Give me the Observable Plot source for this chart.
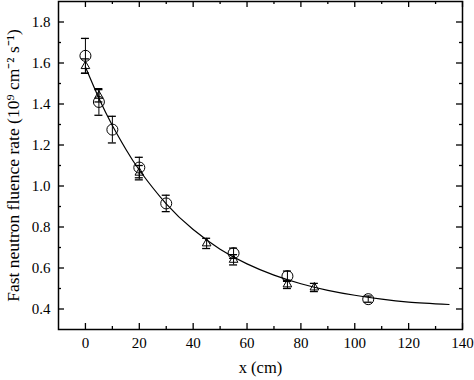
<!DOCTYPE html>
<html>
<head>
<meta charset="utf-8">
<script src="https://cdn.jsdelivr.net/npm/d3@7"></script>
<script src="https://cdn.jsdelivr.net/npm/@observablehq/plot@0.6"></script>
<style>
  body { margin: 0; background: #fff; }
</style>
</head>
<body>
<div id="chart"></div>
<script>
// Measured data: circles
const circX = [0, 5, 10, 20, 30, 55, 75, 105];
const circY = [1.635, 1.41, 1.275, 1.09, 0.915, 0.672, 0.56, 0.448];
const circErr = [0.085, 0.065, 0.065, 0.05, 0.04, 0.025, 0.025, 0.015];
// Measured data: triangles
const triX = [0, 5, 20, 45, 55, 75, 85];
const triY = [1.585, 1.44, 1.065, 0.72, 0.64, 0.52, 0.505];
const triErr = [0.035, 0.03, 0.035, 0.025, 0.025, 0.02, 0.02];
// Fitted curve
const fitX = [0, 5, 10, 15, 20, 30, 40, 50, 60, 70, 80, 90, 100, 110, 120, 135];
const fitY = [1.58, 1.428, 1.295, 1.179, 1.078, 0.913, 0.788, 0.692, 0.62, 0.565, 0.523, 0.491, 0.467, 0.448, 0.434, 0.422];
// Ticks
const xMajor = [0, 20, 40, 60, 80, 100, 120, 140];
const xMinor = [10, 30, 50, 70, 90, 110, 130];
const yMajor = [0.4, 0.6, 0.8, 1.0, 1.2, 1.4, 1.6, 1.8];
const yMinor = [0.5, 0.7, 0.9, 1.1, 1.3, 1.5, 1.7];

const circ = circX.map((x, i) => ({x, y: circY[i], lo: circY[i] - circErr[i], hi: circY[i] + circErr[i]}));
const tri = triX.map((x, i) => ({x, y: triY[i], lo: triY[i] - triErr[i], hi: triY[i] + triErr[i]}));
const fit = fitX.map((x, i) => ({x, y: fitY[i]}));

const W = 474, H = 380, mL = 58, mR = 12, mT = 1, mB = 51;
const pw = W - mL - mR, ph = H - mT - mB;
const sw = 1.3;

function errBars(data) {
  return [
    Plot.ruleX(data, {x: "x", y1: "lo", y2: "hi", stroke: "#000", strokeWidth: 1}),
    Plot.ruleY(data, {y: "lo", x1: "x", x2: "x", insetLeft: -4, insetRight: -4, stroke: "#000", strokeWidth: 1.3}),
    Plot.ruleY(data, {y: "hi", x1: "x", x2: "x", insetLeft: -4, insetRight: -4, stroke: "#000", strokeWidth: 1.3})
  ];
}

const chart = Plot.plot({
  width: W, height: H,
  marginLeft: mL, marginRight: mR, marginTop: mT, marginBottom: mB,
  style: {fontFamily: "'Liberation Serif', 'Times New Roman', serif", fontSize: "15px", color: "#000", background: "#fff"},
  x: {domain: [-10, 140]},
  y: {domain: [0.3, 1.9]},
  marks: [
    Plot.frame({stroke: "#000", strokeWidth: 1.5}),
    // inward ticks
    Plot.tickX(xMajor, {x: d => d, insetTop: ph - 6, stroke: "#000", strokeWidth: sw}),
    Plot.tickX(xMinor, {x: d => d, insetTop: ph - 3, stroke: "#000", strokeWidth: sw}),
    Plot.tickX(xMajor, {x: d => d, insetBottom: ph - 6, stroke: "#000", strokeWidth: sw}),
    Plot.tickX(xMinor, {x: d => d, insetBottom: ph - 3, stroke: "#000", strokeWidth: sw}),
    Plot.tickY(yMajor, {y: d => d, insetRight: pw - 6, stroke: "#000", strokeWidth: sw}),
    Plot.tickY(yMinor, {y: d => d, insetRight: pw - 3, stroke: "#000", strokeWidth: sw}),
    Plot.tickY(yMajor, {y: d => d, insetLeft: pw - 6, stroke: "#000", strokeWidth: sw}),
    Plot.tickY(yMinor, {y: d => d, insetLeft: pw - 3, stroke: "#000", strokeWidth: sw}),
    Plot.axisX(xMajor, {tickSize: 0, tickPadding: 8, tickFormat: d => String(d),
      label: "x (cm)", labelAnchor: "center", labelArrow: "none", labelOffset: 43}),
    Plot.axisY(yMajor, {tickSize: 0, tickPadding: 8, tickFormat: d => d.toFixed(1),
      label: "Fast neutron fluence rate (10⁹ cm⁻² s⁻¹)", labelAnchor: "center", labelArrow: "none", labelOffset: 52}),
    Plot.line(fit, {x: "x", y: "y", curve: "natural", stroke: "#000", strokeWidth: 1.2}),
    ...errBars(circ),
    ...errBars(tri),
    Plot.dot(circ, {x: "x", y: "y", r: 5.5, stroke: "#000", strokeWidth: 1, fill: "none"}),
    Plot.dot(tri, {x: "x", y: "y", symbol: "triangle", r: 3.2, stroke: "#000", strokeWidth: 1, fill: "none"})
  ]
});
d3.select(chart).selectAll('g[aria-label="y-axis label"]').attr("font-size", 17.5);
d3.select(chart).selectAll('g[aria-label="x-axis label"]').attr("font-size", 16.5);
document.getElementById("chart").appendChild(chart);
</script>
</body>
</html>
